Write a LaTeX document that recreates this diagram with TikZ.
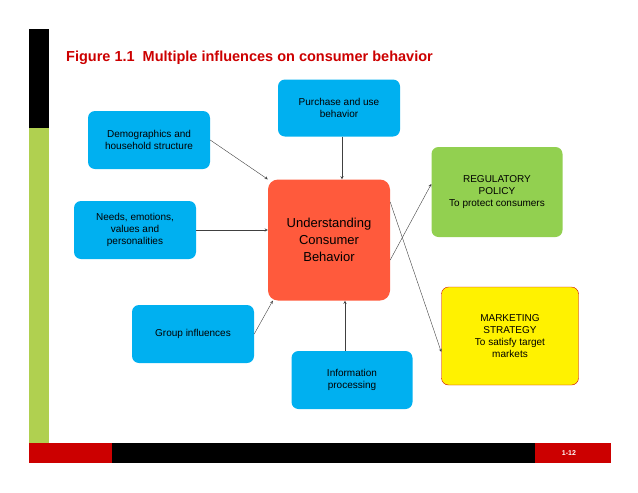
\documentclass[tikz,border=0pt]{standalone}
\usepackage{fontspec}
\setmainfont{Liberation Sans}
\definecolor{rd}{RGB}{204,0,0}
\definecolor{lgreen}{RGB}{176,208,80}
\definecolor{sky}{RGB}{0,176,240}
\definecolor{orng}{RGB}{255,90,60}
\definecolor{ggreen}{RGB}{146,208,80}
\begin{document}
\begin{tikzpicture}[x=1pt,y=-1pt,
 box/.style={rounded corners=7pt,align=center,font=\fontsize{10}{12}\selectfont,inner sep=0pt},
 bluebox/.style={box,fill=sky},
 arr/.style={->,>=stealth,thin,draw=black!75}]
\useasboundingbox (0,0) rectangle (638,493);
\fill[black] (29,29) rectangle (49,128);
\fill[lgreen] (29,128) rectangle (49,443);
\fill[rd] (29,443) rectangle (112,463);
\fill[black] (112,443) rectangle (535,463);
\fill[rd] (535,443) rectangle (611,463);
\node[text=white,font=\bfseries\fontsize{7}{8}\selectfont] (pg) at (569,453) {1-12};
\node[anchor=west,text=rd,font=\bfseries\fontsize{14.5}{17}\selectfont,inner sep=0pt] (tt) at (66,58) {Figure 1.1\ \ Multiple influences on consumer behavior};
\node[bluebox,minimum width=122,minimum height=57] (pur) at (339,108) {Purchase and use\\behavior};
\node[bluebox,minimum width=122,minimum height=58] (dem) at (149,140) {Demographics and\\household structure};
\node[bluebox,minimum width=122,minimum height=58] (need) at (135,230) {Needs, emotions,\\values and\\personalities};
\node[bluebox,minimum width=122,minimum height=58] (grp) at (193,334) {Group influences};
\node[bluebox,minimum width=121,minimum height=58] (info) at (352,380) {Information\\processing};
\node[box,rounded corners=10pt,fill=orng,minimum width=122,minimum height=121,font=\fontsize{13}{17}\selectfont] (ctr) at (329,240) {Understanding\\Consumer\\Behavior};
\node[box,fill=ggreen,minimum width=131,minimum height=90] (reg) at (497,192) {REGULATORY\\POLICY\\To protect consumers};
\node[box,fill=yellow,draw=rd,minimum width=137,minimum height=98] (mkt) at (510,336) {MARKETING\\STRATEGY\\To satisfy target\\markets};
\draw[arr] (dem.east) -- (ctr.north west);
\draw[arr] (pur.south -| 342,0) -- (ctr.north -| 342,0);
\draw[arr] (need.east) -- (ctr.west |- need.east);
\draw[arr] (grp.east) -- ([xshift=5]ctr.south west);
\draw[arr] (info.north -| 345,0) -- (ctr.south -| 345,0);
\draw[arr] ([yshift=-20]ctr.east) -- ([yshift=8]reg.west);
\draw[arr] ([yshift=38]ctr.east) -- ([yshift=-16]mkt.west);
\end{tikzpicture}
\end{document}
